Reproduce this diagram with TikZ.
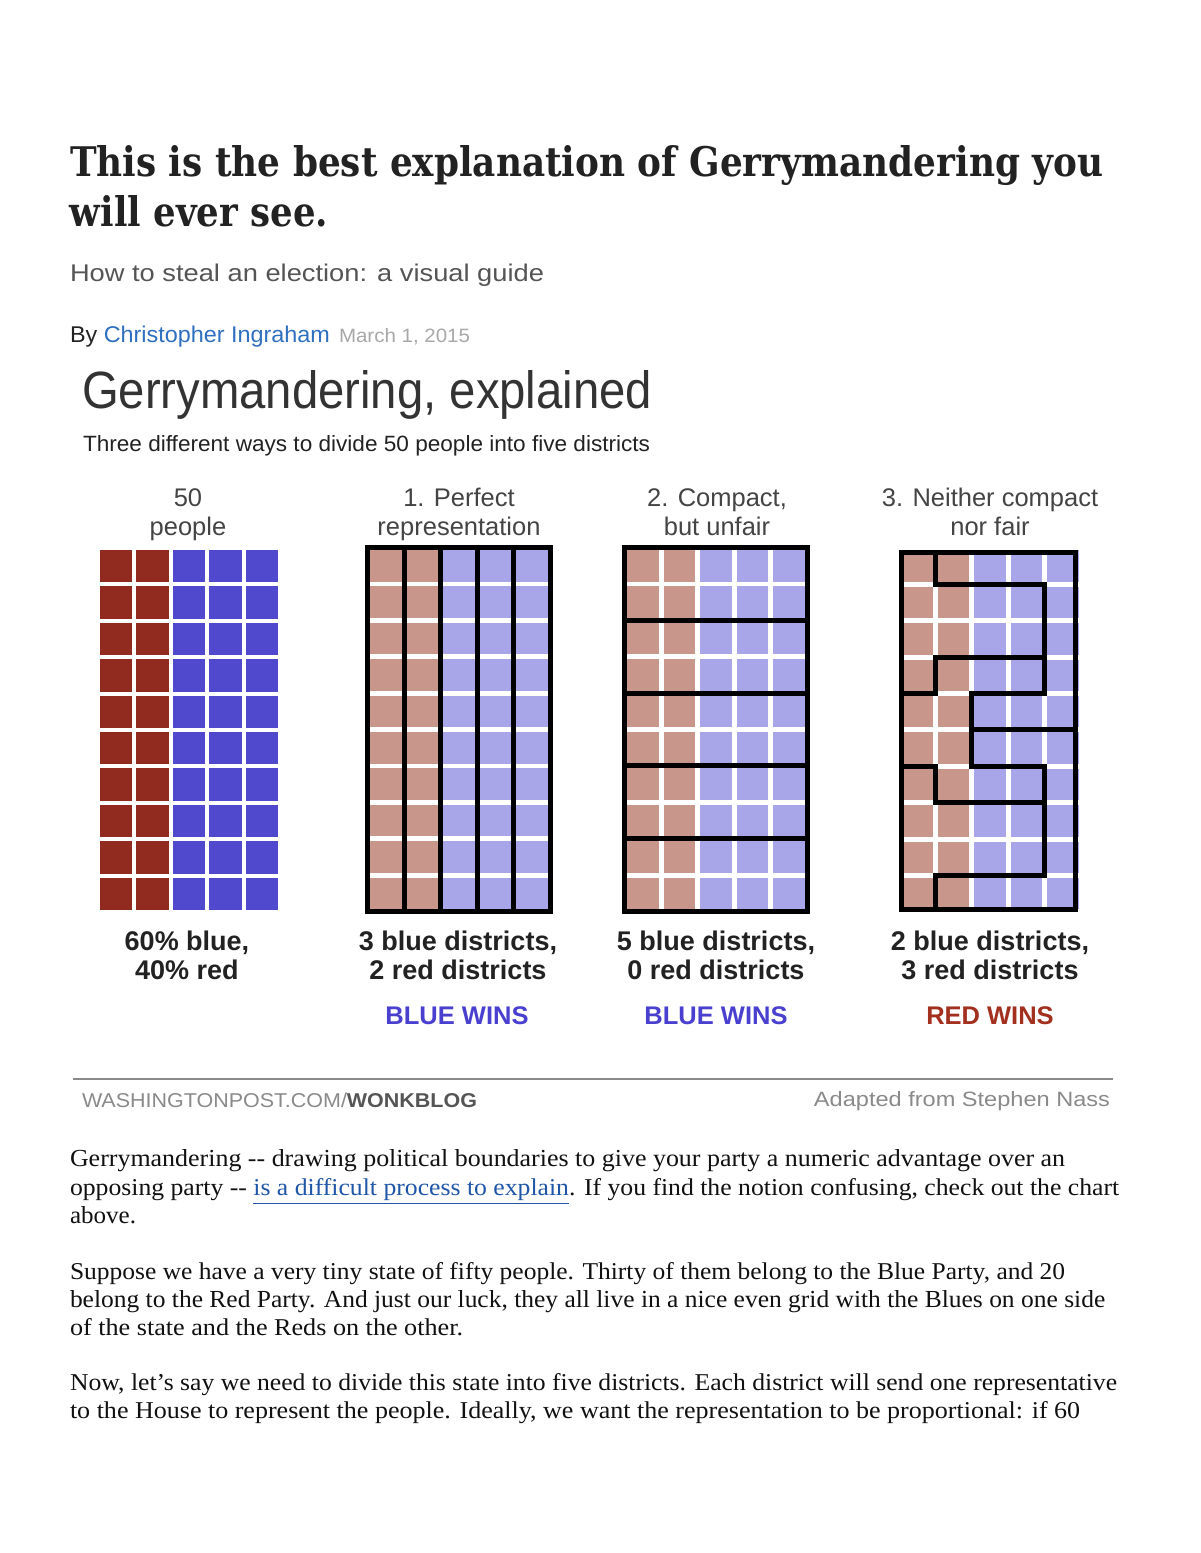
\documentclass[tikz,border=0pt]{standalone}
\usepackage{fontspec}
\usepackage{graphicx}
\setmainfont{Liberation Serif}
\newfontfamily\ttlfont{DejaVu Serif}
\newfontfamily\arialfont{Liberation Sans}

\definecolor{redD}{HTML}{922B1F}
\definecolor{bluD}{HTML}{5048CD}
\definecolor{redL}{HTML}{C9968B}
\definecolor{bluL}{HTML}{A8A5E8}
\definecolor{authorblue}{HTML}{2F6FC0}
\definecolor{bodylink}{HTML}{1F56A8}
\definecolor{winblue}{HTML}{4A40CF}
\definecolor{winred}{HTML}{A3301F}
\definecolor{ink}{HTML}{222222}
\definecolor{bodyink}{HTML}{111111}
\definecolor{charttitle}{HTML}{333333}
\definecolor{hdrgray}{HTML}{444444}
\definecolor{subgray}{HTML}{555555}
\definecolor{dategray}{HTML}{A8A8A8}
\definecolor{footgray}{HTML}{8A8A8A}
\definecolor{footdark}{HTML}{555555}
\definecolor{rulegray}{HTML}{8A8A8A}

\newcommand{\redcells}[2]{%
  \foreach \c in {0,...,4}{\foreach \r in {0,...,9}{%
    \ifnum\c<2 \def\cc{redL}\else\def\cc{bluL}\fi
    \fill[\cc] ({#1+36.5*\c},{#2+36.4*\r}) rectangle ++(31.5,31.5);
  }}}

\begin{document}
\begin{tikzpicture}[x=1pt,y=-1pt,
  txt/.style={inner sep=0pt,outer sep=0pt},
  hdr/.style={txt,anchor=base,text=hdrgray,font=\arialfont\fontsize{25.5}{30}\selectfont},
  lbl/.style={txt,anchor=base,text=ink,font=\arialfont\bfseries\fontsize{27}{32}\selectfont},
  wins/.style={txt,anchor=base,font=\arialfont\bfseries\fontsize{25.5}{30}\selectfont},
  bodyline/.style={txt,anchor=base west,text=bodyink},
  border/.style={draw=black,line width=5pt,line join=miter},
  dline/.style={draw=black,line width=5pt,line join=miter,line cap=rect}]

\fill[white] (0,0) rectangle (1200,1553);
\useasboundingbox (0,0) rectangle (1200,1553);

% ---------- header ----------
\node[txt,anchor=base west,text=ink] (title1) at (70,176)
  {\resizebox{1033pt}{31pt}{\ttlfont\bfseries This is the best explanation of Gerrymandering you}};
\node[txt,anchor=base west,text=ink] (title2) at (70,226)
  {\resizebox{258pt}{31pt}{\ttlfont\bfseries will ever see.}};
\node[txt,anchor=base west,text=subgray] (subtitle) at (70,281)
  {\resizebox{474pt}{17.5pt}{\arialfont How to steal an election: a visual guide}};
\node[txt,anchor=base west,text=ink] (byline) at (70,342)
  {\resizebox{260pt}{16.5pt}{\arialfont By \textcolor{authorblue}{Christopher Ingraham}}};
\node[txt,anchor=base west,text=dategray] (date) at (339,342)
  {\resizebox{131pt}{14pt}{\arialfont March 1, 2015}};

% ---------- chart titles ----------
\node[txt,anchor=base west,text=charttitle] (charttitle) at (82,408)
  {\resizebox{570pt}{38pt}{\arialfont Gerrymandering, explained}};
\node[txt,anchor=base west,text=ink] (chartsub) at (83,451)
  {\resizebox{567pt}{16pt}{\arialfont Three different ways to divide 50 people into five districts}};

% ---------- column headers ----------
\node[hdr] (h0a) at (188,506) {50};
\node[hdr] (h0b) at (188,535) {people};
\node[hdr] (h1a) at (459,506) {1. Perfect};
\node[hdr] (h1b) at (459,535) {representation};
\node[hdr] (h2a) at (717,506) {2. Compact,};
\node[hdr] (h2b) at (717,535) {but unfair};
\node[hdr] (h3a) at (990,506) {3. Neither compact};
\node[hdr] (h3b) at (990,535) {nor fair};

% ---------- grid 0 : 50 people ----------
\foreach \c in {0,...,4}{\foreach \r in {0,...,9}{%
  \ifnum\c<2 \def\cc{redD}\else\def\cc{bluD}\fi
  \fill[\cc] ({100+36.4*\c},{550+36.4*\r}) rectangle ++(32.4,32.4);
}}

% ---------- grid 1 : perfect representation ----------
\redcells{370}{550}
\foreach \k in {1,...,4}{
  \draw[dline] ({367.5+36.5*\k},547.5) -- ({367.5+36.5*\k},911.5);
}
\draw[border] (367.5,547.5) rectangle (550,911.5);

% ---------- grid 2 : compact but unfair ----------
\redcells{627.3}{550}
\foreach \j in {2,4,6,8}{
  \draw[dline] (624.8,{547.5+36.4*\j}) -- (807.3,{547.5+36.4*\j});
}
\draw[border] (624.8,547.5) rectangle (807.3,911.5);

% ---------- grid 3 : neither compact nor fair ----------
\redcells{901.3}{550.3}
\foreach \c/\xv in {0/901.8,1/935.3,2/971.8,3/1008.3,4/1044.8,5/1075.8}{
  \foreach \r/\yv in {0/552.8,1/584.2,2/620.6,3/657.0,4/693.4,5/729.8,6/766.2,7/802.6,8/839.0,9/875.4,10/909.3}{
    \coordinate (q\c-\r) at (\xv,\yv);
  }
}
\draw[dline] (q1-0) -- (q1-1) -- (q4-1) -- (q4-4) -- (q2-4) -- (q2-6) -- (q4-6) -- (q4-9) -- (q1-9) -- (q1-10);
\draw[dline] (q0-4) -- (q1-4) -- (q1-3) -- (q4-3);
\draw[dline] (q0-6) -- (q1-6) -- (q1-7) -- (q4-7);
\draw[dline] (q2-5) -- (q5-5);
\draw[border] (q0-0) rectangle (q5-10);

% ---------- results ----------
\node[lbl] (r0a) at (187,950) {60\% blue,};
\node[lbl] (r0b) at (187,979) {40\% red};
\node[lbl] (r1a) at (458,950) {3 blue districts,};
\node[lbl] (r1b) at (458,979) {2 red districts};
\node[lbl] (r2a) at (716,950) {5 blue districts,};
\node[lbl] (r2b) at (716,979) {0 red districts};
\node[lbl] (r3a) at (990,950) {2 blue districts,};
\node[lbl] (r3b) at (990,979) {3 red districts};

\node[wins,text=winblue] (w1) at (457,1024) {BLUE WINS};
\node[wins,text=winblue] (w2) at (716,1024) {BLUE WINS};
\node[wins,text=winred] (w3) at (990,1024) {RED WINS};

% ---------- footer ----------
\coordinate (ruleL) at (73,1079);
\coordinate (ruleR) at (1113,1079);
\draw[rulegray,line width=1.8pt] (ruleL) -- (ruleR);
\node[txt,anchor=base west] (src) at (82,1107)
  {\resizebox{395pt}{14.5pt}{\arialfont\textcolor{footgray}{WASHINGTONPOST.COM/}\textcolor{footdark}{\bfseries WONKBLOG}}};
\node[txt,anchor=base east,text=footgray] (adapted) at (1110,1106)
  {\resizebox{296pt}{15pt}{\arialfont Adapted from Stephen Nass}};

% ---------- body text ----------
\node[bodyline] (b1) at (70,1166)
  {\resizebox{995pt}{17pt}{Gerrymandering {-}{-} drawing political boundaries to give your party a numeric advantage over an}};
\node[bodyline] (b2) at (70,1195)
  {\resizebox{1049pt}{17pt}{opposing party {-}{-} \textcolor{bodylink}{\underline{is a difficult process to explain}}. If you find the notion confusing, check out the chart}};
\node[bodyline] (b3) at (70,1223)
  {\resizebox{66pt}{17pt}{above.}};
\node[bodyline] (b4) at (70,1279)
  {\resizebox{995pt}{17pt}{Suppose we have a very tiny state of fifty people. Thirty of them belong to the Blue Party, and 20}};
\node[bodyline] (b5) at (70,1307)
  {\resizebox{1035pt}{17pt}{belong to the Red Party. And just our luck, they all live in a nice even grid with the Blues on one side}};
\node[bodyline] (b6) at (70,1335)
  {\resizebox{393pt}{17pt}{of the state and the Reds on the other.}};
\node[bodyline] (b7) at (70,1390)
  {\resizebox{1047pt}{17pt}{Now, let's say we need to divide this state into five districts. Each district will send one representative}};
\node[bodyline] (b8) at (70,1418)
  {\resizebox{1010pt}{17pt}{to the House to represent the people. Ideally, we want the representation to be proportional: if 60}};

\end{tikzpicture}
\end{document}
